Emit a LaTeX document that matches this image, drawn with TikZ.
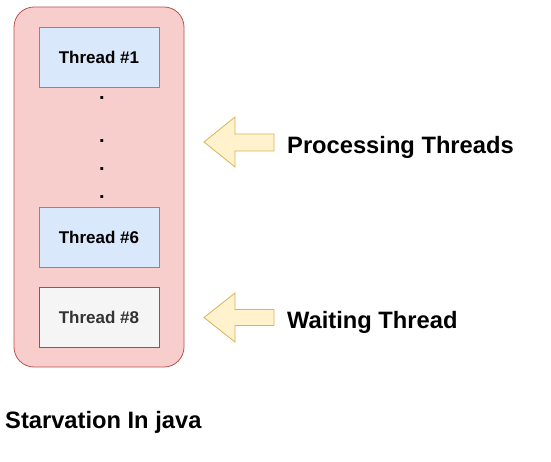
\documentclass[tikz,border=0pt]{standalone}
\usepackage{fontspec}
\setmainfont{Liberation Sans}
\definecolor{outerfill}{HTML}{F8CECC}
\definecolor{outerline}{HTML}{B85450}
\definecolor{bluefill}{HTML}{DAE8FC}
\definecolor{blueline}{HTML}{6C8EBF}
\definecolor{grayfill}{HTML}{F5F5F5}
\definecolor{grayline}{HTML}{666666}
\definecolor{graytext}{HTML}{333333}
\definecolor{arrowfill}{HTML}{FFF2CC}
\definecolor{arrowline}{HTML}{D6B656}
\tikzset{
  threadbox/.style={draw=blueline, fill=bluefill, line width=0.8pt, minimum width=120pt, minimum height=60pt, inner sep=0pt, font=\fontsize{17pt}{19pt}\selectfont\bfseries},
  waitbox/.style={draw=grayline, fill=grayfill, line width=0.8pt, minimum width=120pt, minimum height=60pt, inner sep=0pt, text=graytext, font=\fontsize{17pt}{19pt}\selectfont\bfseries},
  bigtext/.style={inner sep=0pt, anchor=base west, font=\fontsize{23.7pt}{26pt}\selectfont\bfseries},
  dotnode/.style={inner sep=0pt, anchor=base, font=\fontsize{20pt}{22pt}\selectfont\bfseries},
  fatarrow/.style={draw=arrowline, fill=arrowfill, line width=0.8pt, line join=miter}
}
\begin{document}
\begin{tikzpicture}[x=1pt, y=-1pt]
\useasboundingbox (0,0) rectangle (551,461);
\fill[white] (0,0) rectangle (551,461);
\draw[draw=outerline, fill=outerfill, line width=0.8pt, rounded corners=20pt] (14,7) rectangle (184,367);
\node[threadbox] (t1) at (99,57) {Thread \#1};
\node[threadbox] (t6) at (99,237) {Thread \#6};
\node[waitbox] (t8) at (99,317) {Thread \#8};
\node[dotnode] (d1) at (102,99) {.};
\node[dotnode] (d2) at (102,142) {.};
\node[dotnode] (d3) at (102,170) {.};
\node[dotnode] (d4) at (102,198) {.};
% arrows
\draw[fatarrow] (204,142) -- (235,117) -- (235,134) -- (274,134) -- (274,151) -- (235,151) -- (235,167) -- cycle;
\draw[fatarrow] (204,317.5) -- (235,293) -- (235,309.5) -- (274,309.5) -- (274,325.5) -- (235,325.5) -- (235,342) -- cycle;
\node[bigtext] (proc) at (287,153) {Processing Threads};
\node[bigtext] (wait) at (287,328) {Waiting Thread};
\node[bigtext] (title) at (5,428) {Starvation In java};
\end{tikzpicture}
\end{document}
